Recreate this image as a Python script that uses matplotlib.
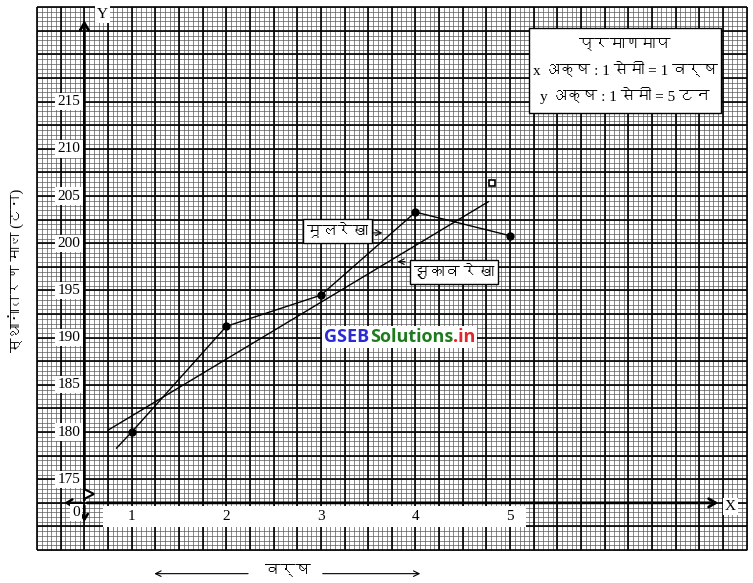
import matplotlib
matplotlib.use("Agg")
import matplotlib.pyplot as plt
import numpy as np
from matplotlib import font_manager
from matplotlib.ft2font import FT2Font
from matplotlib.patches import Rectangle
from matplotlib.offsetbox import TextArea, HPacker, AnnotationBbox

# data
years = [1, 2, 3, 4, 5]
goods = [180, 191.2, 194.5, 203.3, 200.8]
line_start = [0.84, 178.3]          # मूलरेखा is drawn a bit before year 1
trend_x = [0.75, 4.77]
trend_y = [180.2, 204.4]
trend_mark = [4.81, 206.4]
y_ticks = [175, 180, 185, 190, 195, 200, 205, 210, 215]
x_ticks = [1, 2, 3, 4, 5]


def find_deva():
    for f in font_manager.fontManager.ttflist:
        try:
            if 0x0915 in FT2Font(f.fname).get_charmap():
                return f.name
        except Exception:
            pass
    return None


deva = find_deva()
fams = ["Liberation Serif"] + ([deva] if deva else []) + ["DejaVu Sans"]
plt.rcParams["font.family"] = fams

fig = plt.figure(figsize=(7.53, 5.83), dpi=100)
ax = fig.add_axes([0, 0, 1, 1])
ax.set_xlim(-0.392, 7.568)
ax.set_ylim(164.01, 225.77)
ax.axis("off")

# graph paper
x0, x1, y0, y1 = 0.0, 7.5, 167.5, 225.0
ax.vlines(np.arange(x0, x1 + 0.001, 0.05), y0, y1, color="0.35", lw=0.5, zorder=1)
ax.hlines(np.arange(y0, y1 + 0.001, 0.5), x0, x1, color="0.35", lw=0.5, zorder=1)
ax.vlines(np.arange(x0, x1 + 0.001, 0.25), y0, y1, color="k", lw=1.2, zorder=1)
ax.hlines(np.arange(y0, y1 + 0.001, 2.5), x0, x1, color="k", lw=1.2, zorder=1)

# axes with arrows
ax.annotate("", xy=(0.5, 223.9), xytext=(0.5, 172.5),
            arrowprops=dict(arrowstyle="->,head_length=0.5,head_width=0.3", lw=2, color="k"), zorder=4)
ax.annotate("", xy=(0.5, 170.2), xytext=(0.5, 172.5),
            arrowprops=dict(arrowstyle="->,head_length=0.4,head_width=0.25", lw=1.8, color="k"), zorder=4)
ax.annotate("", xy=(7.23, 172.5), xytext=(0.5, 172.5),
            arrowprops=dict(arrowstyle="->,head_length=0.5,head_width=0.3", lw=2, color="k"), zorder=4)
ax.annotate("", xy=(0.26, 172.5), xytext=(0.5, 172.5),
            arrowprops=dict(arrowstyle="->,head_length=0.4,head_width=0.25", lw=1.8, color="k"), zorder=4)
ax.plot([0.55], [173.45], marker=">", ms=7, mfc="white", mec="k", mew=1.5, zorder=5)

# tick labels
white = dict(facecolor="white", edgecolor="none", pad=1.5)
for v in y_ticks:
    ax.text(0.337, v, str(v), fontsize=11, ha="center", va="center", bbox=white, zorder=5)
ax.add_patch(Rectangle((0.697, 169.95), 4.47, 2.22, facecolor="white", edgecolor="none", zorder=3))
for v in x_ticks:
    ax.text(v, 171.1, str(v), fontsize=11, ha="center", va="center", zorder=5)
ax.text(0.411, 171.5, "0", fontsize=11, ha="center", va="center", bbox=white, zorder=5)
ax.text(0.69, 224.2, "Y", fontsize=11, ha="center", va="center", bbox=white, zorder=5)
ax.text(7.33, 172.1, "X", fontsize=11, ha="center", va="center", bbox=white, zorder=5)

# data lines
ax.plot([line_start[0], years[0]], [line_start[1], goods[0]], color="k", lw=1.0, zorder=4)
ax.plot(years, goods, color="k", lw=1.0, marker="o", ms=5, zorder=4)
ax.plot(trend_x, trend_y, color="k", lw=1.0, zorder=4)
ax.plot(trend_mark[0], trend_mark[1], marker="s", ms=4, mfc="white", mec="k", mew=1.2, zorder=4)

# labels on the lines
boxed = dict(facecolor="white", edgecolor="k", lw=1.0, pad=3)
ax.text(3.176, 201.27, "मूलरेखा", fontsize=11, ha="center", va="center", bbox=boxed, zorder=6)
ax.annotate("", xy=(3.68, 201.1), xytext=(3.52, 201.1),
            arrowprops=dict(arrowstyle="->", lw=0.8, color="k"), zorder=6)
ax.text(4.41, 196.94, "झुकाव रेखा", fontsize=11, ha="center", va="center", bbox=boxed, zorder=6)
ax.annotate("", xy=(3.78, 198.05), xytext=(3.92, 198.05),
            arrowprops=dict(arrowstyle="->", lw=0.8, color="k"), zorder=6)

# scale box
ax.add_patch(Rectangle((5.2, 213.8), 2.03, 9.0, facecolor="white", edgecolor="k", lw=1.0, zorder=5))
ax.text(6.215, 221.0, "प्रमाणमाप", fontsize=11, ha="center", va="center", zorder=6)
ax.text(6.215, 218.35, "x अक्ष : 1 सेमी = 1 वर्ष", fontsize=11, ha="center", va="center", zorder=6)
ax.text(6.215, 215.7, "y अक्ष : 1 सेमी = 5 टन", fontsize=11, ha="center", va="center", zorder=6)

# axis titles
ax.text(-0.212, 197.17, "स्थानांतरण माल (टन)", fontsize=10.5, rotation=90, ha="center", va="center")
ax.text(2.65, 165.18, "वर्ष", fontsize=11, ha="center", va="center")
ax.annotate("", xy=(1.21, 165.0), xytext=(2.26, 165.0),
            arrowprops=dict(arrowstyle="->", lw=0.8, color="k"))
ax.annotate("", xy=(4.08, 165.0), xytext=(2.99, 165.0),
            arrowprops=dict(arrowstyle="->", lw=0.8, color="k"))

# watermark
wm = dict(fontsize=13, fontweight="bold", family="Open Sans")
parts = [TextArea("GSEB", textprops=dict(color="#2b2bd6", **wm)),
         TextArea("Solutions", textprops=dict(color="#1e7b1e", **wm)),
         TextArea(".in", textprops=dict(color="#e0262a", **wm))]
pack = HPacker(children=parts, align="baseline", pad=0, sep=0)
ab = AnnotationBbox(pack, (3.835, 190.06), frameon=True, pad=0.15,
                    bboxprops=dict(facecolor="white", edgecolor="none"), zorder=6)
ax.add_artist(ab)

fig.savefig("out.png", dpi=100, facecolor="white")
